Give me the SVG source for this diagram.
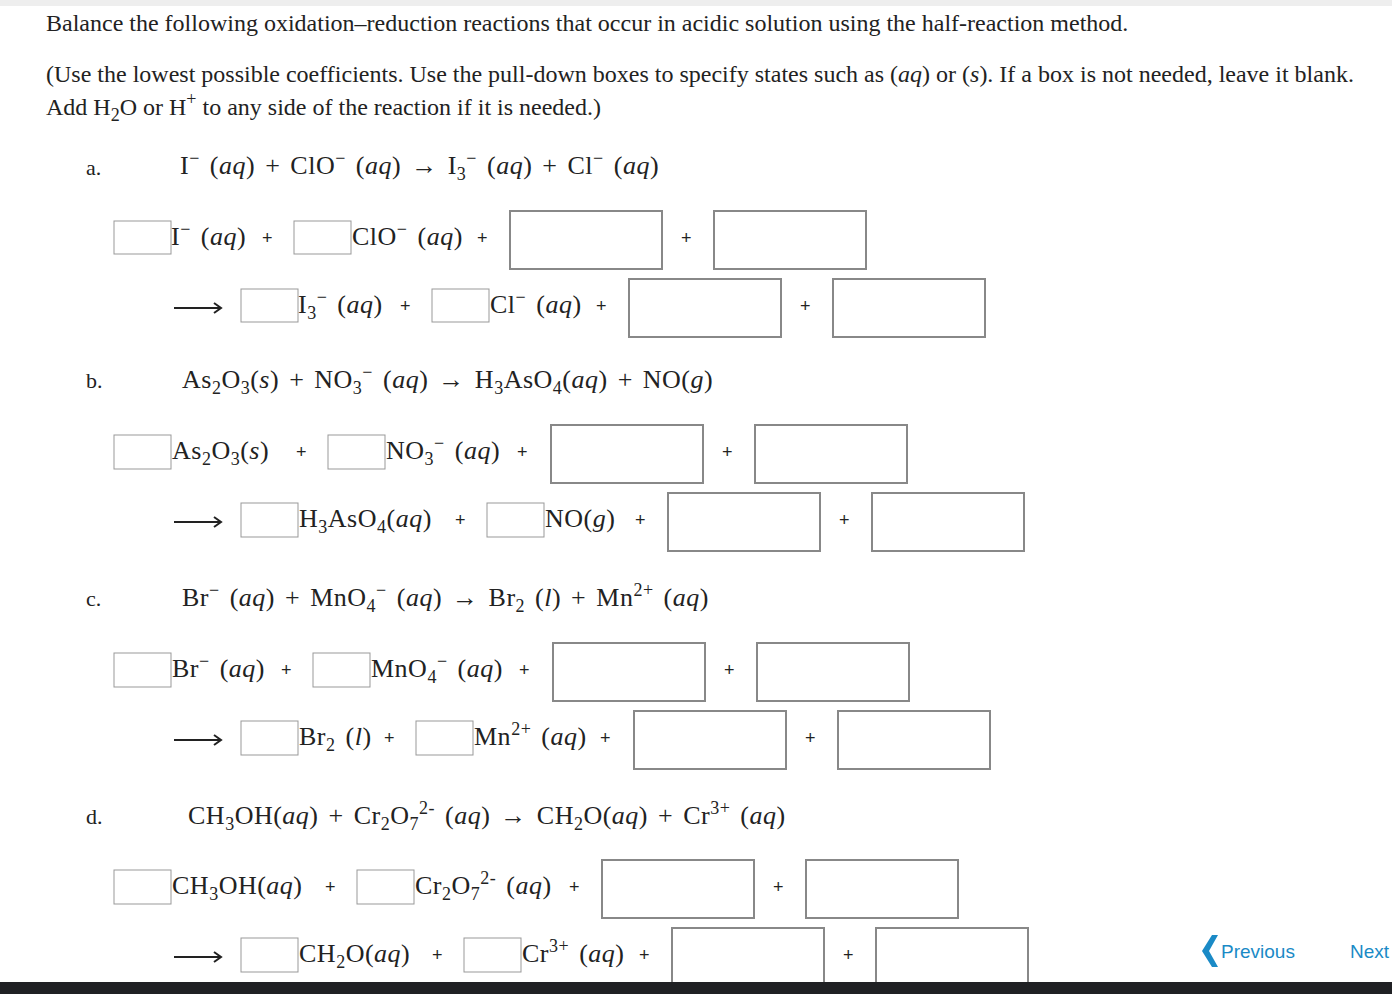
<svg xmlns="http://www.w3.org/2000/svg" width="1392" height="994" viewBox="0 0 1392 994">
<style>
text{font-family:"Liberation Serif","DejaVu Serif",serif;fill:#222}
.h{font-size:24px}
.m{font-size:26px;word-spacing:3px;letter-spacing:0.5px}
.l{font-size:22px}
.p{font-family:"Liberation Sans",Arial,sans-serif;font-size:18px}
.i{font-style:italic}
.s{font-size:18px}
.sb{fill:#fff;stroke:#999;stroke-width:1}
.lb{fill:#fff;stroke:#888;stroke-width:2}
.ar{stroke:#222;stroke-width:2;fill:none}
.nav{font-family:"Liberation Sans",Arial,sans-serif;font-size:19px;fill:#1a8ac6}
</style>
<rect width="1392" height="994" fill="#fff"/>
<rect width="1392" height="6" fill="#eee"/>
<g id="instructions">
<text class="h" x="46" y="31">Balance the following oxidation–reduction reactions that occur in acidic solution using the half-reaction method.</text>
<text class="h" x="46" y="82">(Use the lowest possible coefficients. Use the pull-down boxes to specify states such as (<tspan class="i">aq</tspan>) or (<tspan class="i">s</tspan>). If a box is not needed, leave it blank.</text>
<text class="h" x="46" y="115">Add H<tspan class="s" dy="6">2</tspan><tspan dy="-6">O or H</tspan><tspan class="s" dy="-10">+</tspan><tspan dy="10"> to any side of the reaction if it is needed.)</tspan></text>
</g>
<g id="a">
<text class="l" x="86" y="175">a.</text>
<text class="m" x="180" y="174">I<tspan class="s" dy="-10">−</tspan><tspan dy="10"> (</tspan><tspan class="i">aq</tspan>) + ClO<tspan class="s" dy="-10">−</tspan><tspan dy="10"> (</tspan><tspan class="i">aq</tspan>) → I<tspan class="s" dy="6">3</tspan><tspan class="s" dy="-16">−</tspan><tspan dy="10"> (</tspan><tspan class="i">aq</tspan>) + Cl<tspan class="s" dy="-10">−</tspan><tspan dy="10"> (</tspan><tspan class="i">aq</tspan>)</text>
<rect class="sb" x="114" y="221" width="57" height="33"/>
<text class="m" x="171" y="245">I<tspan class="s" dy="-10">−</tspan><tspan dy="10"> (</tspan><tspan class="i">aq</tspan>)</text>
<text class="p" x="262" y="244">+</text>
<rect class="sb" x="294" y="221" width="57" height="33"/>
<text class="m" x="352" y="245">ClO<tspan class="s" dy="-10">−</tspan><tspan dy="10"> (</tspan><tspan class="i">aq</tspan>)</text>
<text class="p" x="477" y="244">+</text>
<rect class="lb" x="510" y="211" width="152" height="58"/>
<text class="p" x="681" y="244">+</text>
<rect class="lb" x="714" y="211" width="152" height="58"/>
<path class="ar" d="M174 308H221M214 303L221 308L214 313"/>
<rect class="sb" x="241" y="289" width="57" height="33"/>
<text class="m" x="298" y="313">I<tspan class="s" dy="6">3</tspan><tspan class="s" dy="-16">−</tspan><tspan dy="10"> (</tspan><tspan class="i">aq</tspan>)</text>
<text class="p" x="400" y="312">+</text>
<rect class="sb" x="432" y="289" width="57" height="33"/>
<text class="m" x="490" y="313">Cl<tspan class="s" dy="-10">−</tspan><tspan dy="10"> (</tspan><tspan class="i">aq</tspan>)</text>
<text class="p" x="596" y="312">+</text>
<rect class="lb" x="629" y="279" width="152" height="58"/>
<text class="p" x="800" y="312">+</text>
<rect class="lb" x="833" y="279" width="152" height="58"/>
</g>
<g id="b">
<text class="l" x="86" y="388">b.</text>
<text class="m" x="182" y="388">As<tspan class="s" dy="6">2</tspan><tspan dy="-6">O</tspan><tspan class="s" dy="6">3</tspan><tspan dy="-6">(</tspan><tspan class="i">s</tspan>) + NO<tspan class="s" dy="6">3</tspan><tspan class="s" dy="-16">−</tspan><tspan dy="10"> (</tspan><tspan class="i">aq</tspan>) → H<tspan class="s" dy="6">3</tspan><tspan dy="-6">AsO</tspan><tspan class="s" dy="6">4</tspan><tspan dy="-6">(</tspan><tspan class="i">aq</tspan>) + NO(<tspan class="i">g</tspan>)</text>
<rect class="sb" x="114" y="435" width="57" height="34"/>
<text class="m" x="172" y="459">As<tspan class="s" dy="6">2</tspan><tspan dy="-6">O</tspan><tspan class="s" dy="6">3</tspan><tspan dy="-6">(</tspan><tspan class="i">s</tspan>)</text>
<text class="p" x="296" y="458">+</text>
<rect class="sb" x="328" y="435" width="57" height="34"/>
<text class="m" x="386" y="459">NO<tspan class="s" dy="6">3</tspan><tspan class="s" dy="-16">−</tspan><tspan dy="10"> (</tspan><tspan class="i">aq</tspan>)</text>
<text class="p" x="517" y="458">+</text>
<rect class="lb" x="551" y="425" width="152" height="58"/>
<text class="p" x="722" y="458">+</text>
<rect class="lb" x="755" y="425" width="152" height="58"/>
<path class="ar" d="M174 522H221M214 517L221 522L214 527"/>
<rect class="sb" x="241" y="503" width="57" height="34"/>
<text class="m" x="299" y="527">H<tspan class="s" dy="6">3</tspan><tspan dy="-6">AsO</tspan><tspan class="s" dy="6">4</tspan><tspan dy="-6">(</tspan><tspan class="i">aq</tspan>)</text>
<text class="p" x="455" y="526">+</text>
<rect class="sb" x="487" y="503" width="57" height="34"/>
<text class="m" x="545" y="527">NO(<tspan class="i">g</tspan>)</text>
<text class="p" x="635" y="526">+</text>
<rect class="lb" x="668" y="493" width="152" height="58"/>
<text class="p" x="839" y="526">+</text>
<rect class="lb" x="872" y="493" width="152" height="58"/>
</g>
<g id="c">
<text class="l" x="86" y="606">c.</text>
<text class="m" x="182" y="606">Br<tspan class="s" dy="-10">−</tspan><tspan dy="10"> (</tspan><tspan class="i">aq</tspan>) + MnO<tspan class="s" dy="6">4</tspan><tspan class="s" dy="-16">−</tspan><tspan dy="10"> (</tspan><tspan class="i">aq</tspan>) → Br<tspan class="s" dy="6">2</tspan><tspan dy="-6"> (</tspan><tspan class="i">l</tspan>) + Mn<tspan class="s" dy="-10">2+</tspan><tspan dy="10"> (</tspan><tspan class="i">aq</tspan>)</text>
<rect class="sb" x="114" y="653" width="57" height="34"/>
<text class="m" x="172" y="677">Br<tspan class="s" dy="-10">−</tspan><tspan dy="10"> (</tspan><tspan class="i">aq</tspan>)</text>
<text class="p" x="281" y="676">+</text>
<rect class="sb" x="313" y="653" width="57" height="34"/>
<text class="m" x="371" y="677">MnO<tspan class="s" dy="6">4</tspan><tspan class="s" dy="-16">−</tspan><tspan dy="10"> (</tspan><tspan class="i">aq</tspan>)</text>
<text class="p" x="519" y="676">+</text>
<rect class="lb" x="553" y="643" width="152" height="58"/>
<text class="p" x="724" y="676">+</text>
<rect class="lb" x="757" y="643" width="152" height="58"/>
<path class="ar" d="M174 740H221M214 735L221 740L214 745"/>
<rect class="sb" x="241" y="721" width="57" height="34"/>
<text class="m" x="299" y="745">Br<tspan class="s" dy="6">2</tspan><tspan dy="-6"> (</tspan><tspan class="i">l</tspan>)</text>
<text class="p" x="384" y="744">+</text>
<rect class="sb" x="416" y="721" width="57" height="34"/>
<text class="m" x="474" y="745">Mn<tspan class="s" dy="-10">2+</tspan><tspan dy="10"> (</tspan><tspan class="i">aq</tspan>)</text>
<text class="p" x="600" y="744">+</text>
<rect class="lb" x="634" y="711" width="152" height="58"/>
<text class="p" x="805" y="744">+</text>
<rect class="lb" x="838" y="711" width="152" height="58"/>
</g>
<g id="d">
<text class="l" x="86" y="824">d.</text>
<text class="m" x="188" y="824">CH<tspan class="s" dy="6">3</tspan><tspan dy="-6">OH(</tspan><tspan class="i">aq</tspan>) + Cr<tspan class="s" dy="6">2</tspan><tspan dy="-6">O</tspan><tspan class="s" dy="6">7</tspan><tspan class="s" dy="-16">2-</tspan><tspan dy="10"> (</tspan><tspan class="i">aq</tspan>) → CH<tspan class="s" dy="6">2</tspan><tspan dy="-6">O(</tspan><tspan class="i">aq</tspan>) + Cr<tspan class="s" dy="-10">3+</tspan><tspan dy="10"> (</tspan><tspan class="i">aq</tspan>)</text>
<rect class="sb" x="114" y="870" width="57" height="34"/>
<text class="m" x="172" y="894">CH<tspan class="s" dy="6">3</tspan><tspan dy="-6">OH(</tspan><tspan class="i">aq</tspan>)</text>
<text class="p" x="325" y="893">+</text>
<rect class="sb" x="357" y="870" width="57" height="34"/>
<text class="m" x="415" y="894">Cr<tspan class="s" dy="6">2</tspan><tspan dy="-6">O</tspan><tspan class="s" dy="6">7</tspan><tspan class="s" dy="-16">2-</tspan><tspan dy="10"> (</tspan><tspan class="i">aq</tspan>)</text>
<text class="p" x="569" y="893">+</text>
<rect class="lb" x="602" y="860" width="152" height="58"/>
<text class="p" x="773" y="893">+</text>
<rect class="lb" x="806" y="860" width="152" height="58"/>
<path class="ar" d="M174 957H221M214 952L221 957L214 962"/>
<rect class="sb" x="241" y="938" width="57" height="34"/>
<text class="m" x="299" y="962">CH<tspan class="s" dy="6">2</tspan><tspan dy="-6">O(</tspan><tspan class="i">aq</tspan>)</text>
<text class="p" x="432" y="961">+</text>
<rect class="sb" x="464" y="938" width="57" height="34"/>
<text class="m" x="522" y="962">Cr<tspan class="s" dy="-10">3+</tspan><tspan dy="10"> (</tspan><tspan class="i">aq</tspan>)</text>
<text class="p" x="639" y="961">+</text>
<rect class="lb" x="672" y="928" width="152" height="58"/>
<text class="p" x="843" y="961">+</text>
<rect class="lb" x="876" y="928" width="152" height="58"/>
</g>
<g id="nav">
<path d="M1212 935L1202 951L1212 967L1218 967L1209 951L1218 935Z" fill="#1a8ac6"/>
<text class="nav" x="1221" y="958">Previous</text>
<text class="nav" x="1350" y="958">Next</text>
</g>
<rect x="0" y="982" width="1392" height="12" fill="#202124"/>
</svg>
